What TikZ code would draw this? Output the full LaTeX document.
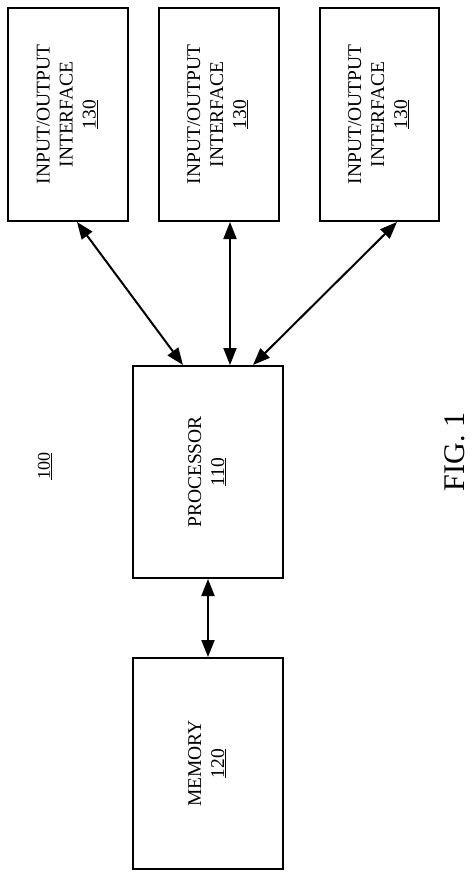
\documentclass[tikz,border=0pt]{standalone}
\usepackage{fontspec}
\setmainfont{Liberation Serif}
\usetikzlibrary{arrows.meta}
\newcommand{\boxtext}[1]{\rotatebox{90}{\fontsize{19.5}{23}\selectfont\begin{tabular}{@{}c@{}}#1\end{tabular}}}
\begin{document}
\begin{tikzpicture}[x=1pt,y=-1pt,
  blk/.style={draw,line width=2pt,inner sep=0pt,align=center},
  link/.style={{Triangle[length=17pt,width=13pt]}-{Triangle[length=17pt,width=13pt]},line width=2pt}]
\useasboundingbox (0,0) rectangle (474,879);
\node[blk,minimum width=120pt,minimum height=213pt] (io1) at (68,114.5) {\boxtext{INPUT/OUTPUT\\INTERFACE\\\underline{130}}};
\node[blk,minimum width=120pt,minimum height=213pt] (io2) at (218.5,114.5) {\boxtext{INPUT/OUTPUT\\INTERFACE\\\underline{130}}};
\node[blk,minimum width=119pt,minimum height=213pt] (io3) at (379.5,114.5) {\boxtext{INPUT/OUTPUT\\INTERFACE\\\underline{130}}};
\node[blk,minimum width=150pt,minimum height=212pt] (proc) at (208,472) {\boxtext{PROCESSOR\\\underline{110}}};
\node[blk,minimum width=150pt,minimum height=211pt] (mem) at (208,763.5) {\boxtext{MEMORY\\\underline{120}}};
\node[rotate=90,font=\fontsize{18}{22}\selectfont] (lbl) at (45,466) {\underline{100}};
\node[rotate=90,font=\fontsize{30}{36}\selectfont] (fig) at (455,452) {FIG. 1};
\draw[link] ([xshift=9pt]io1.south) -- ([xshift=-25pt]proc.north);
\draw[link] ([xshift=11.5pt]io2.south) -- ([xshift=22pt]proc.north);
\draw[link] ([xshift=17.5pt]io3.south) -- ([xshift=45pt]proc.north);
\draw[link] (proc.south) -- (mem.north);
\end{tikzpicture}
\end{document}
